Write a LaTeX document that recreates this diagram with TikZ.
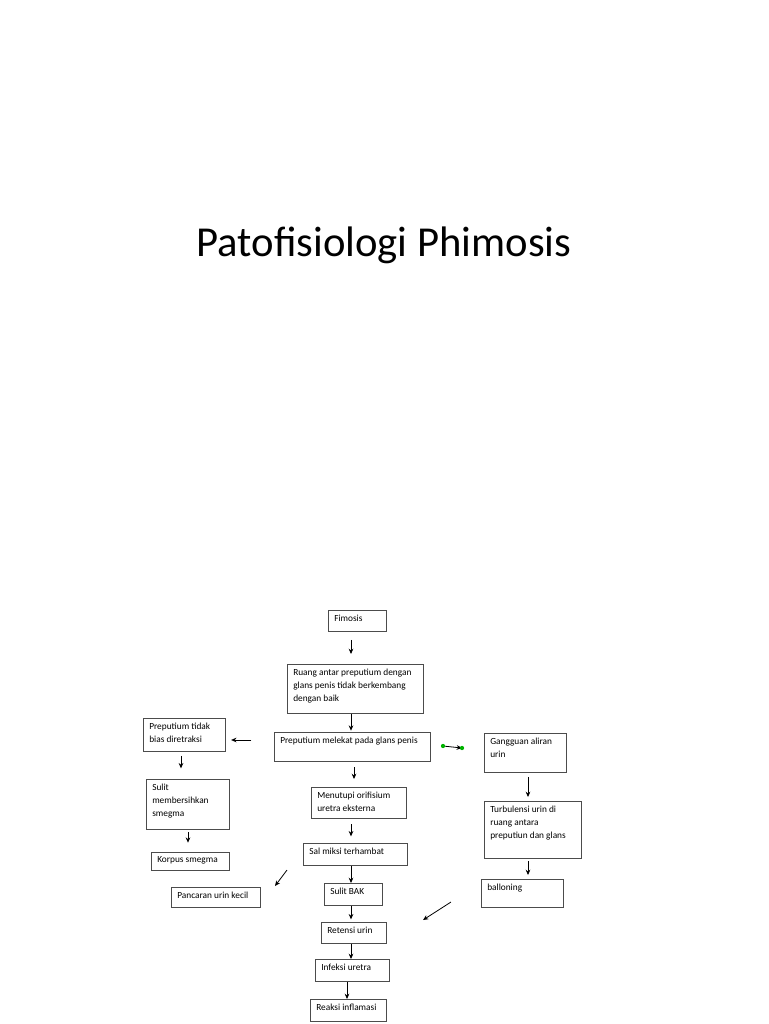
\documentclass[tikz,border=0pt]{standalone}
\usepackage{fontspec}
\setmainfont{Carlito}
\usetikzlibrary{arrows.meta}
\tikzset{
  box/.style={draw=black!70, line width=0.6pt, inner sep=0pt},
  txt/.style={inner sep=0pt, align=left, font=\fontsize{7}{9.75}\selectfont},
  arr/.style={-{Stealth[length=4pt,width=3.5pt]}, line width=0.6pt},
}
\newcommand\bx[6]{%
  \node[box, minimum width={(#4-#2)*0.75pt}, minimum height={(#5-#3)*0.75pt}, anchor=north west] (#1) at (#2,#3) {};
  \node[txt, anchor=north west] (#1t) at ([xshift=4.5pt,yshift=-3.5pt]#1.north west) {#6};}
\begin{document}
\begin{tikzpicture}[x=0.75pt,y=-0.75pt]
\useasboundingbox (0,0) rectangle (768,1024);
\fill[white] (0,0) rectangle (768,1024);
\node[font=\fontsize{32}{38}\selectfont] (title) at (384,245) {Patofisiologi Phimosis};
\bx{fim}{328}{610}{386}{631}{Fimosis}
\bx{ruang}{287}{664}{423}{713}{Ruang antar preputium dengan\\glans penis tidak berkembang\\dengan baik}
\bx{prep}{274}{732}{430}{761}{Preputium melekat  pada glans penis}
\bx{menu}{311}{787}{406}{818}{Menutupi orifisium\\uretra eksterna}
\bx{sal}{303}{843}{407}{865}{Sal miksi terhambat}
\bx{bak}{324}{883}{382}{905}{Sulit BAK}
\bx{ret}{321}{922}{386}{943}{Retensi urin}
\bx{inf}{315}{959}{389}{981}{Infeksi uretra}
\bx{rea}{310}{999}{386}{1021}{Reaksi inflamasi}
\bx{tidak}{143}{718}{225}{751}{Preputium tidak\\bias diretraksi}
\bx{smeg}{146}{779}{229}{829}{Sulit\\membersihkan\\smegma}
\bx{korp}{151}{852}{229}{870}{Korpus smegma}
\bx{panc}{171}{887}{260}{907}{Pancaran urin kecil}
\bx{gang}{484}{733}{566}{772}{Gangguan aliran\\urin}
\bx{turb}{484}{801}{581}{858}{Turbulensi urin di\\ruang antara\\preputiun dan glans}
\bx{ball}{481}{879}{563}{907}{balloning}
% vertical arrows
\draw[arr, shorten <=6pt, shorten >=7.5pt] (fim.south -| 351,0) -- (ruang.north -| 351,0);
\draw[arr, shorten >=1pt] (ruang.south -| 351,0) -- (prep.north -| 351,0);
\draw[arr, shorten <=4pt, shorten >=6pt] (prep.south -| 354,0) -- (menu.north -| 354,0);
\draw[arr, shorten <=4pt, shorten >=5pt] (menu.south -| 351,0) -- (sal.north -| 351,0);
\draw[arr] (sal.south -| 351,0) -- (bak.north -| 351,0);
\draw[arr, shorten >=2pt] (bak.south -| 351,0) -- (ret.north -| 351,0);
\draw[arr] (ret.south -| 351,0) -- (inf.north -| 351,0);
\draw[arr] (inf.south -| 347,0) -- (rea.north -| 347,0);
\draw[arr, shorten <=3pt, shorten >=8pt] (tidak.south -| 181,0) -- (smeg.north -| 181,0);
\draw[arr, shorten <=2pt, shorten >=7pt] (smeg.south -| 188,0) -- (korp.north -| 188,0);
\draw[arr, shorten <=3pt, shorten >=3pt] (gang.south -| 528,0) -- (turb.north -| 528,0);
\draw[arr, shorten <=2pt, shorten >=3pt] (turb.south -| 528,0) -- (ball.north -| 528,0);
% horizontal
\draw[arr, shorten <=17pt, shorten >=4pt] (prep.west |- 0,740) -- (tidak.east |- 0,740);
\coordinate (g1) at (443,746);
\coordinate (g2) at (462,748);
\draw[arr] (g1) -- (g2);
\fill[green!70!black] (g1) circle (1.6pt) (g2) circle (1.6pt);
% free diagonal arrows
\coordinate (d1) at (287,870); \coordinate (d2) at (275,886);
\draw[arr] (d1) -- (d2);
\coordinate (d3) at (451,902); \coordinate (d4) at (423,920);
\draw[arr] (d3) -- (d4);
\end{tikzpicture}
\end{document}
